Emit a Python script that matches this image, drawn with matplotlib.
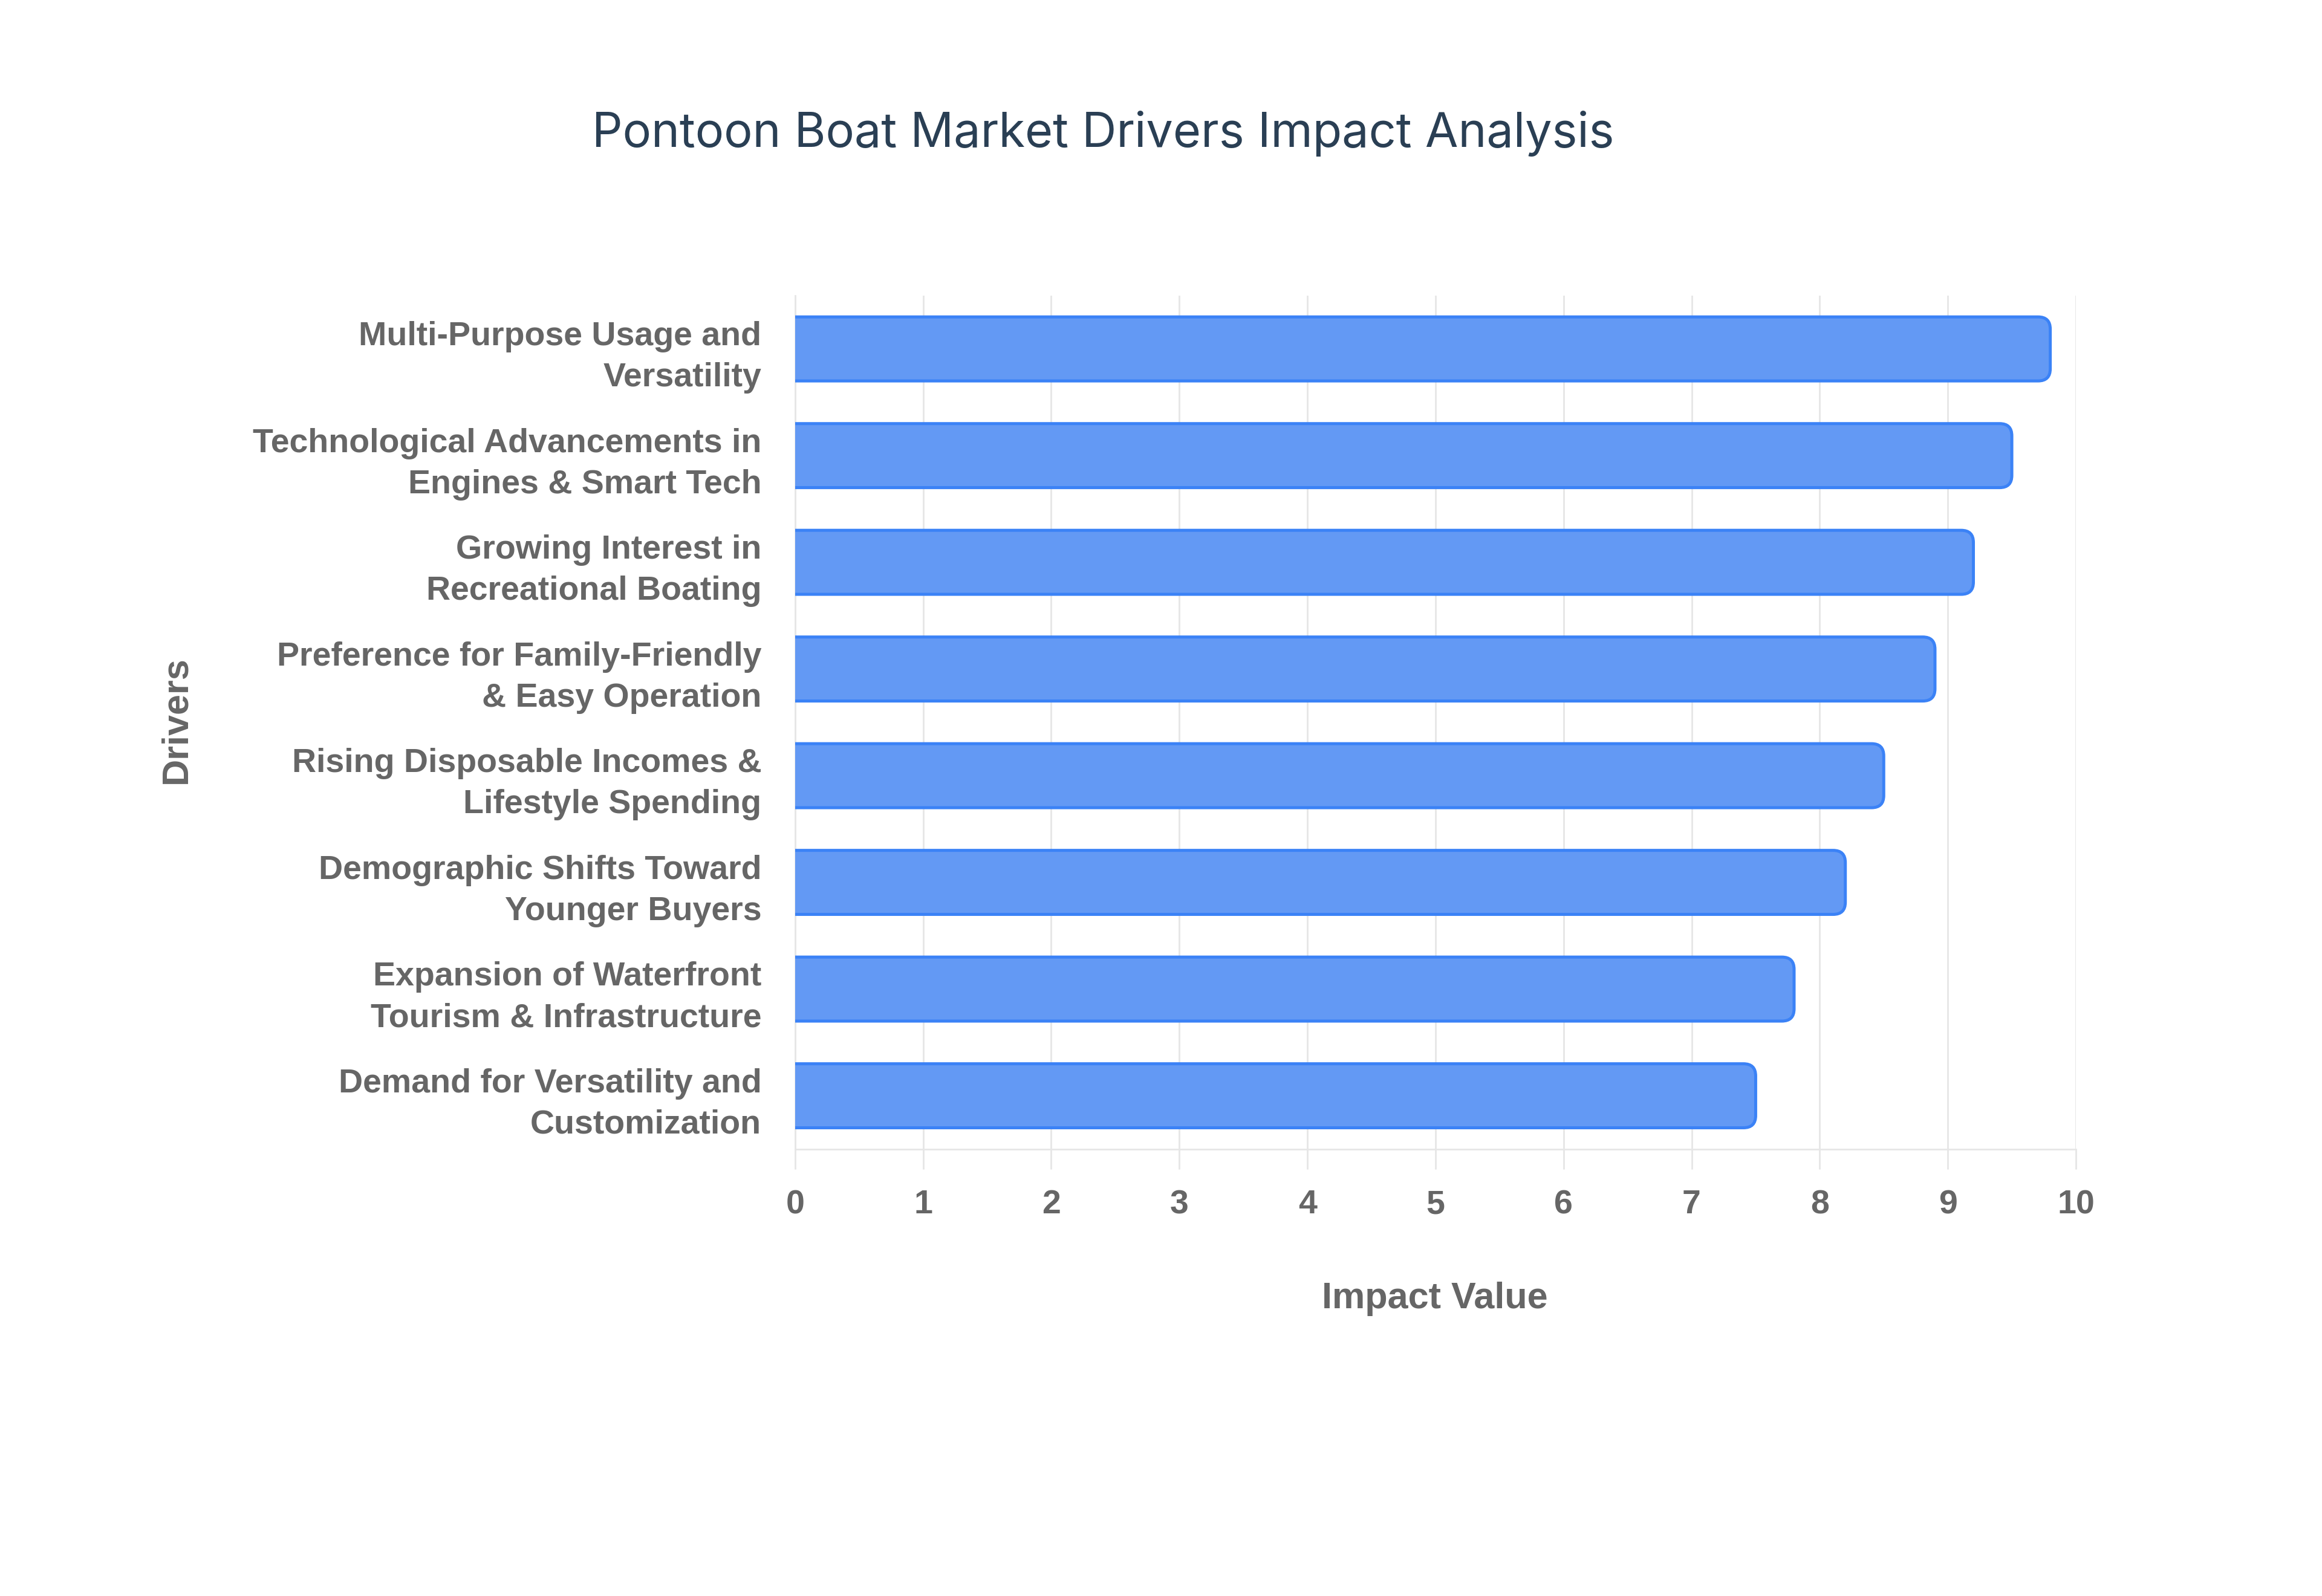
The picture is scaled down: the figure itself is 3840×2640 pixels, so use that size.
import matplotlib
matplotlib.use('Agg')
import matplotlib.pyplot as plt
from matplotlib.patches import FancyBboxPatch

# data, bottom bar first
drivers = [
    'Demand for Versatility and\nCustomization',
    'Expansion of Waterfront\nTourism & Infrastructure',
    'Demographic Shifts Toward\nYounger Buyers',
    'Rising Disposable Incomes &\nLifestyle Spending',
    'Preference for Family-Friendly\n& Easy Operation',
    'Growing Interest in\nRecreational Boating',
    'Technological Advancements in\nEngines & Smart Tech',
    'Multi-Purpose Usage and\nVersatility',
]
impact = [7.5, 7.8, 8.2, 8.5, 8.9, 9.2, 9.5, 9.8]
x_ticks = [0, 1, 2, 3, 4, 5, 6, 7, 8, 9, 10]

GRAY = '#666666'
FILL = '#6399f4'
EDGE = '#3b82f6'

fig = plt.figure(figsize=(19.2, 13.2), dpi=200)
ax = fig.add_axes([0.3424, 0.28, 0.894 - 0.3424, 0.8148 - 0.28])

bar_h = 0.6
for i, v in enumerate(impact):
    box = FancyBboxPatch((-0.3, i - bar_h / 2), v + 0.3, bar_h,
                         boxstyle='round,pad=0,rounding_size=0.095',
                         mutation_aspect=1.2,
                         facecolor=FILL, edgecolor=EDGE, linewidth=1.8,
                         zorder=3, clip_on=True)
    ax.add_patch(box)

ax.set_xlim(0, 10)
ax.set_ylim(-0.5, len(drivers) - 0.5)
ax.set_xticks(x_ticks)
ax.set_yticks(range(len(drivers)))
ax.set_yticklabels(drivers, fontfamily='Liberation Sans', fontweight='bold',
                   color=GRAY, fontsize=20, linespacing=1.4)
ax.set_xticklabels([str(t) for t in x_ticks], fontfamily='Liberation Sans',
                   fontweight='bold', color=GRAY, fontsize=20)

ax.grid(axis='x', color='#e6e6e6', linewidth=1.0, zorder=0)
ax.set_axisbelow(True)
for side in ['top', 'right']:
    ax.spines[side].set_visible(False)
ax.spines['left'].set_color('#e6e6e6')
ax.spines['bottom'].set_color('#e6e6e6')
ax.spines['left'].set_linewidth(1.0)
ax.spines['bottom'].set_linewidth(1.0)
ax.tick_params(axis='x', length=12, width=1.0, color='#e6e6e6', pad=12)
ax.tick_params(axis='y', length=0, pad=20)

fig.text(0.618, 0.186, 'Impact Value', ha='center', va='center',
         fontfamily='Liberation Sans', fontweight='bold', color=GRAY, fontsize=22)
fig.text(0.076, 0.549, 'Drivers', ha='center', va='center', rotation=90,
         fontfamily='Liberation Sans', fontweight='bold', color=GRAY, fontsize=22)

fig.text(0.475, 0.908, 'Pontoon Boat Market Drivers Impact Analysis',
         ha='center', va='baseline', fontfamily='Inter', color='#2a3f54',
         fontsize=28.5)

fig.savefig('out.png', dpi=200, facecolor='white')
